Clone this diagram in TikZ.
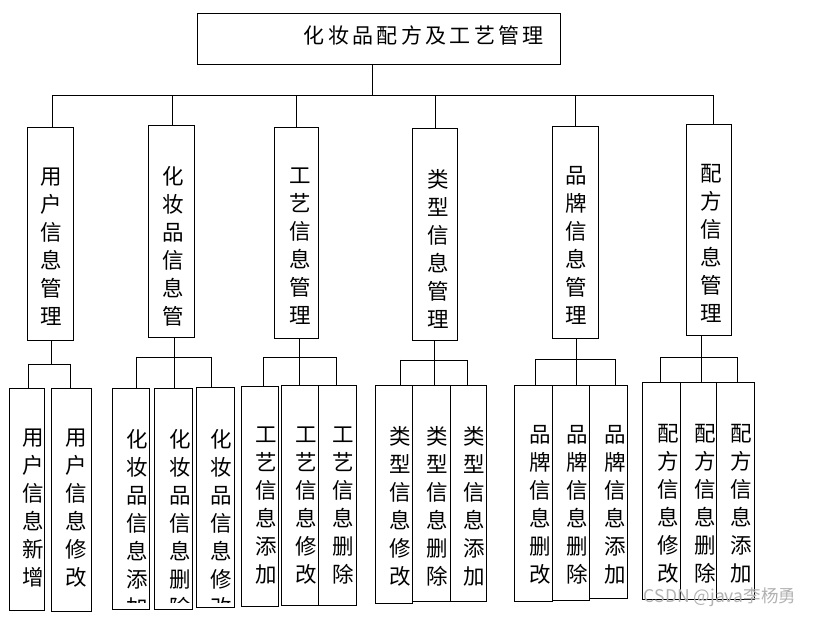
\documentclass[tikz,border=0pt]{standalone}
\usepackage{fontspec}
\newfontfamily\cjk{Noto Sans CJK SC}
\newcommand\tk{\kern3.3pt}
\tikzset{
 box/.style={draw, line width=0.9pt, inner sep=0pt},
 vtext/.style={anchor=north, inner sep=0pt, align=center, font=\cjk\fontsize{21.5}{28}\selectfont},
 conn/.style={line width=0.9pt},
 titletext/.style={font=\cjk\fontsize{21}{24}\selectfont, inner sep=0pt},
 wm/.style={font=\cjk\fontsize{17.5}{20}\selectfont, text=black!30, inner sep=0pt}
}
\newcommand\bx[5]{\node[box, minimum width={(#4-#2)*1pt}, minimum height={(#5-#3)*1pt}] (#1) at ({(#2+#4)/2},{(#3+#5)/2}) {};}
\newcommand\vt[4]{\node[vtext] (#1) at (#2,#3-10) {#4};}
\begin{document}
\begin{tikzpicture}[x=1pt,y=-1pt]
\useasboundingbox (0,0) rectangle (814,617);
% top
\bx{top}{197.3}{13.3}{560.7}{64.3}
\node[titletext] (title) at (423.8,35.7) {化\tk 妆\tk 品\tk 配\tk 方\tk 及\tk 工\tk 艺\tk 管\tk 理};
% level 1 boxes
\bx{u}{27.3}{127.3}{73.3}{340}
\bx{h}{148.3}{125.3}{194.3}{337.3}
\bx{g}{274.3}{127.3}{318.7}{338.3}
\bx{l}{412.3}{128.3}{457.3}{340}
\bx{p}{552.3}{126.3}{598.3}{338.3}
\bx{f}{686.3}{124.3}{731.3}{335.3}
\vt{tu}{51.7}{178}{用\\户\\信\\息\\管\\理}
\vt{th}{173}{176}{化\\妆\\品\\信\\息\\管}
\vt{tg}{300}{178}{工\\艺\\信\\息\\管\\理}
\vt{tl}{437.8}{179}{类\\型\\信\\息\\管\\理}
\vt{tp}{576.7}{176}{品\\牌\\信\\息\\管\\理}
\vt{tf}{711.7}{174}{配\\方\\信\\息\\管\\理}
% bus
\coordinate (busc) at (372,95.3);
\coordinate (bl) at (52,95.3);
\coordinate (br) at (714,95.3);
\coordinate (b1) at (52,95.3);
\coordinate (b2) at (172.3,95.3);
\coordinate (b3) at (296.3,95.3);
\coordinate (b4) at (435.3,95.3);
\coordinate (b5) at (575.3,95.3);
\coordinate (b6) at (713.3,95.3);
\draw[conn] (top.south -| busc) -- (busc);
\draw[conn] (bl) -- (br);
\draw[conn] (b1) -- (b1 |- u.north);
\draw[conn] (b2) -- (b2 |- h.north);
\draw[conn] (b3) -- (b3 |- g.north);
\draw[conn] (b4) -- (b4 |- l.north);
\draw[conn] (b5) -- (b5 |- p.north);
\draw[conn] (b6) -- (b6 |- f.north);
% level 2 boxes
\bx{u1}{9.3}{388.3}{44.7}{610}
\bx{u2}{51.3}{388.3}{91.7}{611.7}
\bx{h1}{112.3}{388.3}{149.3}{609.3}
\bx{h2}{154.3}{388.3}{192.7}{609.3}
\bx{h3}{196.7}{387.3}{234.3}{607.7}
\bx{g1}{241.7}{386.7}{278.3}{606}
\bx{g2}{281.7}{385.3}{318.3}{605}
\bx{g3}{318.3}{385.3}{356.7}{605}
\bx{l1}{375.7}{385.3}{412.7}{603.3}
\bx{l2}{412.7}{385.3}{450.7}{601.7}
\bx{l3}{450.7}{385.3}{486}{601.7}
\bx{p1}{514.3}{385.3}{552.7}{601}
\bx{p2}{552.7}{385.3}{589.3}{600}
\bx{p3}{589.3}{385.3}{627.3}{598.7}
\bx{f1}{642.3}{382.3}{680.7}{599.3}
\bx{f2}{680.7}{382.3}{716.7}{599}
\bx{f3}{716.7}{382.3}{754.7}{599}
% level 2 texts
\vt{tu1}{33}{439}{用\\户\\信\\息\\新\\增}
\vt{tu2}{76}{439}{用\\户\\信\\息\\修\\改}
\begin{scope}
\clip (100,380) rectangle (240,602);
\vt{th1}{137}{439}{化\\妆\\品\\信\\息\\添\\加}
\vt{th2}{180.5}{439}{化\\妆\\品\\信\\息\\删\\除}
\vt{th3}{221}{439}{化\\妆\\品\\信\\息\\修\\改}
\end{scope}
\vt{tg1}{266.3}{437}{工\\艺\\信\\息\\添\\加}
\vt{tg2}{305.8}{437}{工\\艺\\信\\息\\修\\改}
\vt{tg3}{343.3}{437}{工\\艺\\信\\息\\删\\除}
\vt{tl1}{400.5}{436}{类\\型\\信\\息\\修\\改}
\vt{tl2}{437}{436}{类\\型\\信\\息\\删\\除}
\vt{tl3}{473.8}{436}{类\\型\\信\\息\\添\\加}
\vt{tp1}{540.5}{435}{品\\牌\\信\\息\\删\\改}
\vt{tp2}{577}{435}{品\\牌\\信\\息\\删\\除}
\vt{tp3}{615.5}{435}{品\\牌\\信\\息\\添\\加}
\vt{tf1}{668.3}{433.7}{配\\方\\信\\息\\修\\改}
\vt{tf2}{705}{433.7}{配\\方\\信\\息\\删\\除}
\vt{tf3}{740.8}{433.7}{配\\方\\信\\息\\添\\加}
% group connectors
\coordinate (s1) at (51.5,364);
\coordinate (s1l) at (28.3,364);
\coordinate (s1r) at (70.7,364);
\draw[conn] (u.south -| s1) -- (s1);
\draw[conn] (s1l) -- (s1r);
\draw[conn] (s1l) -- (s1l |- u1.north);
\draw[conn] (s1r) -- (s1r |- u2.north);
\coordinate (s2) at (174.3,357);
\coordinate (s2l) at (136,357);
\coordinate (s2r) at (211,357);
\draw[conn] (h.south -| s2) -- (s2 |- h2.north);
\draw[conn] (s2l) -- (s2r);
\draw[conn] (s2l) -- (s2l |- h1.north);
\draw[conn] (s2r) -- (s2r |- h3.north);
\coordinate (s3) at (299.3,357.3);
\coordinate (s3l) at (263.3,357.3);
\coordinate (s3r) at (336.7,357.3);
\draw[conn] (g.south -| s3) -- (s3 |- g2.north);
\draw[conn] (s3l) -- (s3r);
\draw[conn] (s3l) -- (s3l |- g1.north);
\draw[conn] (s3r) -- (s3r |- g3.north);
\coordinate (s4) at (434.3,360);
\coordinate (s4l) at (400.7,360);
\coordinate (s4r) at (467.3,360);
\draw[conn] (l.south -| s4) -- (s4 |- l2.north);
\draw[conn] (s4l) -- (s4r);
\draw[conn] (s4l) -- (s4l |- l1.north);
\draw[conn] (s4r) -- (s4r |- l3.north);
\coordinate (s5) at (576.7,359.3);
\coordinate (s5l) at (535.7,359.3);
\coordinate (s5r) at (615,359.3);
\draw[conn] (p.south -| s5) -- (s5 |- p2.north);
\draw[conn] (s5l) -- (s5r);
\draw[conn] (s5l) -- (s5l |- p1.north);
\draw[conn] (s5r) -- (s5r |- p3.north);
\coordinate (s6) at (701.3,357.3);
\coordinate (s6l) at (660.7,357.3);
\coordinate (s6r) at (737.3,357.3);
\draw[conn] (f.south -| s6) -- (s6 |- f2.north);
\draw[conn] (s6l) -- (s6r);
\draw[conn] (s6l) -- (s6l |- f1.north);
\draw[conn] (s6r) -- (s6r |- f3.north);
% watermark
\node[wm] (wmark) at (720,597) {CSDN @java李杨勇};
\end{tikzpicture}
\end{document}
